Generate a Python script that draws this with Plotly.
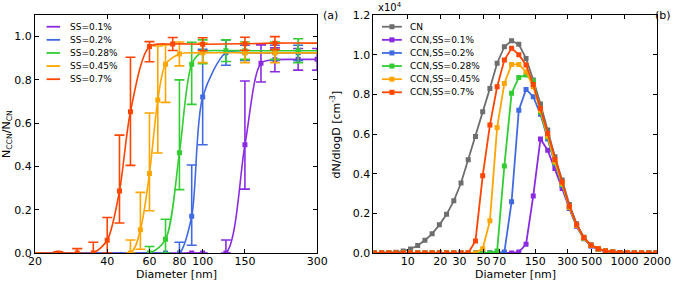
import plotly.graph_objects as go
import math

# ---------------- Panel (a): activated fraction ----------------
a_labels = ["SS=0.1%", "SS=0.2%", "SS=0.28%", "SS=0.45%", "SS=0.7%"]
a_colors = ["#8A2BE2", "#4169E1", "#32CD32", "#FFA500", "#FF4500"]

d_ss01 = [90, 100, 125, 150, 175, 200, 250, 300]
f_ss01 = [0.0, 0.0, 0.0, 0.50, 0.877, 0.893, 0.895, 0.895]
eu_ss01 = [0.0, 0.0, 0.06, 0.295, 0.085, 0.055, 0.05, 0.05]
ed_ss01 = [0.0, 0.0, 0.0, 0.205, 0.087, 0.055, 0.05, 0.05]

d_ss02 = [70, 80, 90, 100, 125, 150, 200, 250]
f_ss02 = [0.0, 0.0, 0.17, 0.721, 0.925, 0.925, 0.925, 0.925]
eu_ss02 = [0.0, 0.05, 0.237, 0.22, 0.06, 0.035, 0.035, 0.035]
ed_ss02 = [0.0, 0.05, 0.134, 0.221, 0.057, 0.035, 0.035, 0.035]

d_ss028 = [60, 70, 80, 90, 100, 125, 150, 200, 250]
f_ss028 = [0.0, 0.063, 0.463, 0.872, 0.93, 0.935, 0.935, 0.935, 0.935]
eu_ss028 = [0.03, 0.093, 0.337, 0.102, 0.055, 0.05, 0.04, 0.04, 0.055]
ed_ss028 = [0.03, 0.063, 0.17, 0.185, 0.055, 0.05, 0.04, 0.04, 0.055]

d_ss045 = [50, 55, 60, 65, 70, 80, 100, 150, 200]
f_ss045 = [0.0, 0.108, 0.367, 0.707, 0.872, 0.92, 0.925, 0.925, 0.925]
eu_ss045 = [0.06, 0.172, 0.28, 0.25, 0.09, 0.055, 0.045, 0.045, 0.045]
ed_ss045 = [0.0, 0.091, 0.172, 0.245, 0.176, 0.055, 0.045, 0.045, 0.045]

d_ss07 = [25, 30, 35, 40, 45, 50, 60, 75, 100, 150, 200]
f_ss07 = [0.0, 0.0, 0.0, 0.059, 0.287, 0.653, 0.954, 0.966, 0.965, 0.967, 0.97]
eu_ss07 = [0.005, 0.02, 0.05, 0.105, 0.258, 0.252, 0.023, 0.03, 0.03, 0.03, 0.03]
ed_ss07 = [0.005, 0.02, 0.05, 0.059, 0.148, 0.248, 0.07, 0.03, 0.03, 0.03, 0.03]

a_x_ticks = [20, 40, 60, 80, 100, 150, 300]
a_y_ticks = [0.0, 0.2, 0.4, 0.6, 0.8, 1.0]
a_x_min, a_x_max = 20, 300

# ---------------- Panel (b): size distributions ----------------
b_labels = ["CN", "CCN,SS=0.1%", "CCN,SS=0.2%", "CCN,SS=0.28%", "CCN,SS=0.45%", "CCN,SS=0.7%"]
b_colors = ["#6E6E6E", "#8A2BE2", "#4169E1", "#32CD32", "#FFA500", "#FF4500"]

diam_b = [4.92, 5.74, 6.69, 7.80, 9.09, 10.6, 12.36, 14.41, 16.8, 19.59,
          22.84, 26.63, 31.04, 36.19, 42.2, 49.2, 57.36, 66.88, 77.98, 90.92,
          106.0, 123.6, 144.1, 168.0, 195.9, 228.4, 266.3, 310.4, 361.9, 422.0,
          492.0, 573.6, 668.8, 779.8, 909.2, 1060.0, 1235.9, 1441.0, 1680.0, 1958.7]
cn = [0, 10, 20, 40, 100, 200, 380, 640, 970, 1420,
      1950, 2630, 3530, 4700, 5880, 7120, 8300, 9570, 10400, 10700,
      10520, 9810, 8720, 7510, 6200, 4850, 3680, 2450, 1480, 800,
      410, 220, 110, 50, 30, 20, 10, 5, 0, 0]
ccn_ss01 = [0, 0, 0, 0, 0, 0, 0, 0, 0, 0,
            0, 0, 0, 0, 0, 0, 0, 0, 0, 0,
            50, 440, 2880, 5750, 5180, 4260, 3250, 2250, 1350, 720,
            350, 180, 80, 40, 20, 10, 0, 0, 0, 0]
ccn_ss02 = [0, 0, 0, 0, 0, 0, 0, 0, 0, 0,
            0, 0, 0, 0, 0, 0, 0, 0, 50, 2580,
            7200, 8250, 7880, 6990, 5750, 4500, 3400, 2270, 1370, 740,
            370, 200, 100, 50, 20, 10, 0, 0, 0, 0]
ccn_ss028 = [0, 0, 0, 0, 0, 0, 0, 0, 0, 0,
             0, 0, 0, 0, 0, 0, 0, 100, 4390, 8050,
             8850, 8970, 8670, 7100, 5850, 4550, 3450, 2300, 1390, 750,
             380, 200, 100, 50, 30, 10, 0, 0, 0, 0]
ccn_ss045 = [0, 0, 0, 0, 0, 0, 0, 0, 0, 0,
             0, 0, 0, 0, 0, 220, 1620, 6330, 8550, 9510,
             9510, 9140, 8380, 7200, 5900, 4600, 3500, 2320, 1400, 760,
             380, 200, 100, 50, 30, 10, 0, 0, 0, 0]
ccn_ss07 = [0, 0, 0, 0, 0, 0, 0, 0, 0, 0,
            0, 0, 0, 0, 610, 3890, 6450, 8380, 9730, 10320,
            10000, 9480, 8500, 7280, 6030, 4710, 3580, 2360, 1430, 780,
            390, 220, 100, 50, 30, 10, 0, 0, 0, 0]

b_x_ticks = [10, 20, 30, 50, 70, 150, 300, 500, 1000, 2000]
b_y_ticks = [0, 2000, 4000, 6000, 8000, 10000, 12000]
b_y_text = ["0.0", "0.2", "0.4", "0.6", "0.8", "1.0", "1.2"]
b_x_min, b_x_max = 4.83, 2000

# ---------------- Figure ----------------
FONT = "DejaVu Sans"
fig = go.Figure()

a_series = [
    (d_ss01, f_ss01, eu_ss01, ed_ss01),
    (d_ss02, f_ss02, eu_ss02, ed_ss02),
    (d_ss028, f_ss028, eu_ss028, ed_ss028),
    (d_ss045, f_ss045, eu_ss045, ed_ss045),
    (d_ss07, f_ss07, eu_ss07, ed_ss07),
]
for (d, f, eu, ed), name, col in zip(a_series, a_labels, a_colors):
    # smooth curve through the measured points, extended to the axis ends
    fig.add_trace(go.Scatter(
        x=[a_x_min] + d + [a_x_max], y=[f[0]] + f + [f[-1]],
        mode="lines", line=dict(color=col, width=1.6, shape="spline", smoothing=0.8),
        xaxis="x", yaxis="y", showlegend=False, hoverinfo="skip"))
    fig.add_trace(go.Scatter(
        x=d, y=f, mode="markers", name=name,
        marker=dict(symbol="square", size=5, color=col),
        error_y=dict(type="data", array=eu, arrayminus=ed, symmetric=False,
                     color=col, thickness=1.6, width=5),
        xaxis="x", yaxis="y", showlegend=False))

b_series = [cn, ccn_ss01, ccn_ss02, ccn_ss028, ccn_ss045, ccn_ss07]
for vals, name, col in zip(b_series, b_labels, b_colors):
    fig.add_trace(go.Scatter(
        x=diam_b, y=vals, mode="lines+markers", name=name,
        line=dict(color=col, width=1.8),
        marker=dict(symbol="square", size=5, color=col),
        xaxis="x2", yaxis="y2", showlegend=False))

# ---------------- Manual compact legends ----------------
shapes = []
annotations = []
for i, (name, col) in enumerate(zip(a_labels, a_colors)):
    yd = 0.9507 - i * 0.0551
    shapes.append(dict(type="line", xref="x domain", yref="y domain",
                       x0=0.041, x1=0.089, y0=yd, y1=yd,
                       line=dict(color=col, width=1.8)))
    annotations.append(dict(xref="x domain", yref="y domain", x=0.118, y=yd,
                            text=name, showarrow=False, xanchor="left", yanchor="middle",
                            font=dict(family=FONT, size=9, color="black")))
for i, (name, col) in enumerate(zip(b_labels, b_colors)):
    yd = 0.9507 - i * 0.0551
    shapes.append(dict(type="line", xref="x2 domain", yref="y2 domain",
                       x0=0.030, x1=0.100, y0=yd, y1=yd,
                       line=dict(color=col, width=1.8)))
    shapes.append(dict(type="rect", xref="x2 domain", yref="y2 domain",
                       xsizemode="pixel", ysizemode="pixel",
                       xanchor=0.065, yanchor=yd, x0=-2.5, x1=2.5, y0=-2.5, y1=2.5,
                       fillcolor=col, line=dict(width=0)))
    annotations.append(dict(xref="x2 domain", yref="y2 domain", x=0.122, y=yd,
                            text=name, showarrow=False, xanchor="left", yanchor="middle",
                            font=dict(family=FONT, size=9, color="black")))

annotations += [
    # panel labels and exponent note
    dict(xref="paper", yref="paper", x=0.4745, y=1.0, text="(a)", showarrow=False,
         xanchor="center", yanchor="middle", font=dict(family=FONT, size=11, color="black")),
    dict(xref="paper", yref="paper", x=1.026, y=1.0, text="(b)", showarrow=False,
         xanchor="right", yanchor="middle", font=dict(family=FONT, size=11, color="black")),
    dict(xref="paper", yref="paper", x=0.571, y=1.034, text="x10<sup>4</sup>", showarrow=False,
         xanchor="center", yanchor="middle", font=dict(family=FONT, size=10, color="black")),
    # axis titles
    dict(xref="x domain", yref="paper", x=0.5, y=-0.09, text="Diameter [nm]",
         showarrow=False, xanchor="center", yanchor="middle",
         font=dict(family=FONT, size=11, color="black")),
    dict(xref="x2 domain", yref="paper", x=0.5, y=-0.09, text="Diameter [nm]",
         showarrow=False, xanchor="center", yanchor="middle",
         font=dict(family=FONT, size=11, color="black")),
    dict(xref="paper", yref="paper", x=-0.045, y=0.5, text="N<sub>CCN</sub>/N<sub>CN</sub>",
         showarrow=False, textangle=-90, xanchor="center", yanchor="middle",
         font=dict(family=FONT, size=11, color="black")),
    dict(xref="paper", yref="paper", x=0.483, y=0.5, text="dN/dlogD [cm<sup>-3</sup>]",
         showarrow=False, textangle=-90, xanchor="center", yanchor="middle",
         font=dict(family=FONT, size=11, color="black")),
]

axis_common = dict(showline=True, linecolor="black", linewidth=1, mirror="ticks",
                   ticks="inside", ticklen=4, tickwidth=1, tickcolor="black",
                   showgrid=False, zeroline=False, automargin=False, tickangle=0,
                   tickfont=dict(family=FONT, size=11, color="black"))

fig.update_layout(
    width=675, height=281,
    margin=dict(l=35, r=18.3, t=15, b=28.3, autoexpand=False),
    paper_bgcolor="white", plot_bgcolor="white",
    font=dict(family=FONT, size=11, color="black"),
    showlegend=False,
    xaxis=dict(axis_common, type="log", domain=[0, 0.4536], ticklabelstandoff=-2,
               range=[math.log10(a_x_min), math.log10(a_x_max)],
               tickvals=a_x_ticks, ticktext=[str(v) for v in a_x_ticks]),
    yaxis=dict(axis_common, range=[0, 1.1], tickvals=a_y_ticks,
               ticktext=["%.1f" % v for v in a_y_ticks]),
    xaxis2=dict(axis_common, type="log", domain=[0.5442, 1.0], anchor="y2",
                ticklabelstandoff=-2,
                range=[math.log10(b_x_min), math.log10(b_x_max)],
                tickvals=b_x_ticks, ticktext=[str(v) for v in b_x_ticks]),
    yaxis2=dict(axis_common, anchor="x2", range=[0, 12000], tickvals=b_y_ticks,
                ticktext=b_y_text),
    shapes=shapes, annotations=annotations,
)

fig.write_html("out.html", config={"displayModeBar": False},
               post_script="document.body.style.margin='0';document.body.style.padding='0';")
